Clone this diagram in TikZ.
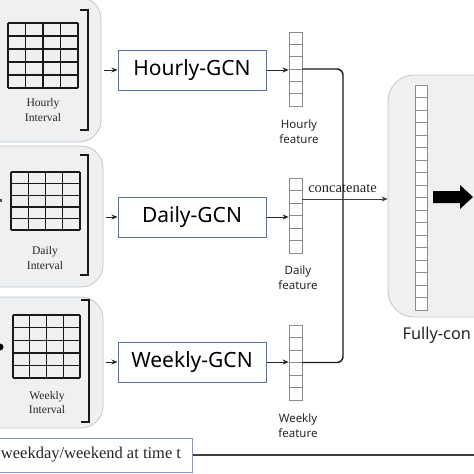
\documentclass[tikz,border=0pt]{standalone}
\usepackage{fontspec}
\setmainfont{Liberation Serif}
\newfontfamily\uisans{Noto Sans}
\usetikzlibrary{arrows.meta}
\definecolor{panelfill}{HTML}{EEF0F2}
\definecolor{panelborder}{HTML}{C3C8CD}
\definecolor{gcnblue}{HTML}{5573A3}
\definecolor{vecgray}{HTML}{8C8C8C}
\definecolor{barblue}{HTML}{8098C0}
\tikzset{
  panel/.style={draw=panelborder, fill=panelfill, line width=0.8pt, rounded corners=22pt, inner sep=0pt},
  gcn/.style={draw=gcnblue, fill=white, line width=1pt, minimum width=148pt, minimum height=40pt, inner sep=0pt, font=\uisans\fontsize{21}{21}\selectfont},
  vecbox/.style={draw=vecgray, fill=white, line width=0.7pt, minimum width=13pt, inner sep=0pt},
  conn/.style={-{Stealth[length=6pt,width=5pt]}, line width=0.9pt, draw=black!85},
  gridline/.style={line width=1.4pt, draw=black!90},
  bracketline/.style={line width=1.3pt, draw=black!90},
  serlabel/.style={font=\fontsize{11.6}{14.5}\selectfont, align=center, text=black!85, inner sep=0pt},
  featlabel/.style={font=\uisans\fontsize{11.5}{15}\selectfont, align=center, text=black!85, inner sep=0pt}
}
\begin{document}
\begin{tikzpicture}[x=1pt,y=-1pt]
\useasboundingbox (0,0) rectangle (474,474);
\clip (0,0) rectangle (474,474);
\fill[white] (0,0) rectangle (474,474);

% left panels
\node[panel, minimum width=131pt, minimum height=145pt] (p1) at (35.5,69.5) {};
\node[panel, minimum width=133pt, minimum height=141pt] (p2) at (36.5,216.5) {};
\node[panel, minimum width=133pt, minimum height=131pt] (p3) at (36.5,362.5) {};

% grids
\foreach \i in {0,...,4} \draw[gridline] (8+17.5*\i,23) -- (8+17.5*\i,88);
\foreach \j in {0,...,5} \draw[gridline] (8,23+13*\j) -- (78,23+13*\j);
\foreach \i in {0,...,4} \draw[gridline] (11+17.25*\i,172) -- (11+17.25*\i,230);
\foreach \j in {0,...,5} \draw[gridline] (11,172+11.6*\j) -- (80,172+11.6*\j);
\foreach \i in {0,...,4} \draw[gridline] (13+16.75*\i,315) -- (13+16.75*\i,378);
\foreach \j in {0,...,5} \draw[gridline] (13,315+12.6*\j) -- (80,315+12.6*\j);

% panel labels
\node[serlabel] (l1) at (43,110) {Hourly\\Interval};
\node[serlabel] (l2) at (45,258) {Daily\\Interval};
\node[serlabel] (l3) at (47,402.5) {Weekly\\Interval};

% brackets
\draw[bracketline] (80,10) -- (88,10) -- (88,130) -- (80,130);
\draw[bracketline] (80,155) -- (88,155) -- (88,275) -- (80,275);
\draw[bracketline] (81,300) -- (89,300) -- (89,422) -- (81,422);

% marks at the left edge
\fill[black!70] (0,199) rectangle (2,202);
\fill[black] (0,347) circle (3.5pt);

% GCN boxes
\node[gcn] (g1) at (192,70) {Hourly-GCN};
\node[gcn] (g2) at (192,217) {Daily-GCN};
\node[gcn] (g3) at (192,362) {Weekly-GCN};

\draw[conn] ([xshift=3pt]p1.east |- g1.west) -- (g1.west);
\draw[conn] ([xshift=3pt]p2.east |- g2.west) -- (g2.west);
\draw[conn] ([xshift=3pt]p3.east |- g3.west) -- (g3.west);

% feature vectors
\node[vecbox, minimum height=74pt] (f1) at (295.5,69) {};
\node[vecbox, minimum height=75pt] (f2) at (295.5,215.5) {};
\node[vecbox, minimum height=75pt] (f3) at (295.5,362.5) {};
\foreach \k in {1,...,5} {
  \draw[vecgray, line width=0.6pt] (289,32+12.33*\k) -- (302,32+12.33*\k);
  \draw[vecgray, line width=0.6pt] (289,178+12.5*\k) -- (302,178+12.5*\k);
  \draw[vecgray, line width=0.6pt] (289,325+12.5*\k) -- (302,325+12.5*\k);
}
\draw[conn] (g1.east) -- (g1.east -| f1.west);
\draw[conn] (g2.east) -- (g2.east -| f2.west);
\draw[conn] (g3.east) -- (g3.east -| f3.west);

\node[featlabel] (fl1) at (299,131.5) {Hourly\\feature};
\node[featlabel] (fl2) at (298,278) {Daily\\feature};
\node[featlabel] (fl3) at (298,425.5) {Weekly\\feature};

% bus
\coordinate (bus) at (343,216);
\draw[line width=1.4pt, black!90, rounded corners=6pt] (f1.east) -| (bus) |- (f3.east);

% fully connected panel
\node[panel, rounded corners=26pt, minimum width=130pt, minimum height=242pt] (fc) at (453,196) {};
\node[vecbox, minimum width=12pt, minimum height=225pt] (fv) at (421,197.5) {};
\foreach \k in {1,...,17} \draw[vecgray, line width=0.6pt] (415,85+12.5*\k) -- (427,85+12.5*\k);
\fill[black] (433,191) -- (460,191) -- (460,185) -- (473,197) -- (460,209) -- (460,203) -- (433,203) -- cycle;
\node[anchor=base west, inner sep=0pt, font=\uisans\fontsize{16.3}{18}\selectfont, text=black!85] (fcl) at (402.5,339) {Fully-con};

% concatenate
\draw[conn, line width=1pt, draw=black!75] ([yshift=16.5pt]f2.east) -- ([yshift=16.5pt]f2.east -| fc.west);
\node[font=\fontsize{14.5}{16}\selectfont, inner sep=0pt, text=black!85] (cat) at (342.5,188) {concatenate};

% bottom bar
\node[draw=barblue, fill=white, line width=1pt, minimum width=202pt, minimum height=34pt, inner sep=0pt, font=\fontsize{16.5}{18}\selectfont, text=black!85] (wb) at (91,455) {weekday/weekend at time t};
\coordinate (wend) at (476,455);
\draw[line width=1.2pt, black!75] (wb.east) -- (wend);
\end{tikzpicture}
\end{document}
